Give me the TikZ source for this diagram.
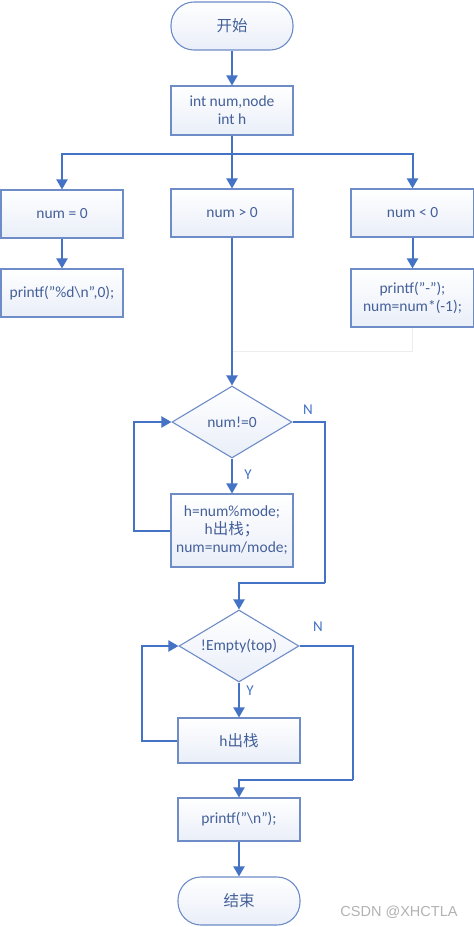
\documentclass[tikz,border=0pt]{standalone}
\usepackage{fontspec}
\setmainfont{Carlito}
\newfontfamily\cjk{Noto Sans CJK SC}
\newfontfamily\wmfont{Liberation Sans}
\usetikzlibrary{shapes.geometric,arrows.meta}
\definecolor{lineblue}{HTML}{4472C4}
\definecolor{boxborder}{HTML}{6E8CC8}
\definecolor{boxfill}{HTML}{E9EEF8}
\definecolor{txt}{HTML}{44609A}
\newcommand{\dq}{\char34\relax}
\begin{document}
\begin{tikzpicture}[x=1pt,y=-1pt,
  every node/.style={font=\fontsize{15.5}{18}\selectfont, text=txt, align=center},
  proc/.style={draw=boxborder, line width=1.1pt, top color=white, bottom color=boxfill, minimum width=122pt, inner sep=2pt},
  term/.style={proc, rounded corners=23pt, minimum height=48pt},
  dec/.style={diamond, aspect=1.67, draw=boxborder, line width=1.1pt, top color=white, bottom color=boxfill, minimum width=120pt, minimum height=72pt, inner sep=0pt},
  conn/.style={draw=lineblue, line width=2pt},
  arr/.style={conn, -{Triangle[width=11pt,length=10pt]}},
  lab/.style={font=\fontsize{15}{17}\selectfont, text=lineblue}
]
\useasboundingbox (0,0) rectangle (474,927);
\fill[white] (0,0) rectangle (474,927);

\node[term] (start) at (232,26) {\cjk 开始};
\node[proc, minimum height=49pt] (init) at (232,110.5) {int num,node\\int h};
\node[proc, minimum height=48pt] (b0) at (62,214) {num = 0};
\node[proc, minimum height=48pt] (bp) at (232,213) {num \textgreater{} 0};
\node[proc, minimum height=48pt, minimum width=123pt] (bn) at (412.5,213) {num \textless{} 0};
\node[proc, minimum height=48pt] (p0) at (62,293) {printf(\dq\%d\textbackslash n\dq,0);};
\node[proc, minimum height=58pt, minimum width=123pt] (pn) at (412.5,298) {printf(\dq-\dq);\\num=num*(-1);};
\node[dec] (d1) at (232,422) {num!=0};
\node[proc, minimum height=73pt] (b1) at (232,530.5) {h=num\%mode;\\h{\cjk 出栈；}\\num=num/mode;};
\node[dec] (d2) at (239,646) {!Empty(top)};
\node[proc, minimum height=45pt] (hb) at (239,740.5) {h{\cjk 出栈}};
\node[proc, minimum height=43pt] (pf) at (239,819.5) {printf(\dq\textbackslash n\dq);};
\node[term] (end) at (239,901) {\cjk 结束};

\coordinate (br) at (232,154);
\coordinate (n1a) at (325,422);
\coordinate (n1b) at (325,583);
\coordinate (l1) at (134,530.5);
\coordinate (n2a) at (353,646);
\coordinate (n2b) at (353,780);
\coordinate (l2) at (142,740.5);
\coordinate (fa) at (412.5,351);
\coordinate (fb) at (233,351);

\draw[arr] (start) -- (init);
\draw[conn] (init.south) -- (br);
\draw[arr] (br) -- (bp.north);
\draw[arr] (br) -| (b0.north);
\draw[arr] (br) -| (bn.north);
\draw[arr] (b0) -- (p0);
\draw[arr] (bn) -- (pn);
\draw[black!7, line width=1pt] (pn.south) -- (fa) -- (fb);
\draw[arr] (bp.south) -- (d1.north);
\draw[arr] (d1.south) -- node[lab, right, pos=0.45, xshift=8pt] (y1) {Y} (b1.north);
\draw[arr] (b1.west) -- (l1) |- (d1.west);
\draw[conn] (d1.east) -- (n1a) -- (n1b);
\draw[arr] (n1b) -| (d2.north);
\node[lab] (N1) at (308,410) {N};
\draw[arr] (d2.south) -- node[lab, right, pos=0.22, xshift=3pt] (y2) {Y} (hb.north);
\draw[arr] (hb.west) -- (l2) |- (d2.west);
\draw[conn] (d2.east) -- (n2a) -- (n2b);
\draw[arr] (n2b) -| (pf.north);
\node[lab] (N2) at (318,627) {N};
\draw[arr] (pf) -- (end);

\node[font=\wmfont\fontsize{14.5}{16}\selectfont, text=black!30] (wm) at (399,912) {CSDN @XHCTLA};
\end{tikzpicture}
\end{document}
